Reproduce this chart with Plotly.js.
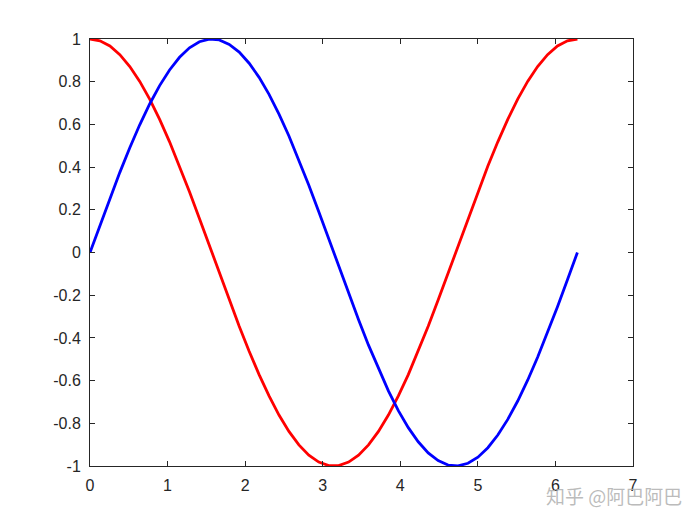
<!DOCTYPE html>
<html>
<head>
<meta charset="utf-8">
<script src="https://cdn.plot.ly/plotly-3.0.1.min.js"></script>
<style>html,body{margin:0;padding:0;background:#fff;}#chart{width:700px;height:525px;}</style>
</head>
<body>
<div id="chart"></div>
<script>
var xValues = [0, 0.1282, 0.2565, 0.3847, 0.5129, 0.6411, 0.7694, 0.8976, 1.0258, 1.1541,
  1.2823, 1.4105, 1.5387, 1.6670, 1.7952, 1.9234, 2.0517, 2.1799, 2.3081, 2.4363,
  2.5646, 2.6928, 2.8210, 2.9493, 3.0775, 3.2057, 3.3339, 3.4622, 3.5904, 3.7186,
  3.8468, 3.9751, 4.1033, 4.2315, 4.3598, 4.4880, 4.6162, 4.7444, 4.8727, 5.0009,
  5.1291, 5.2574, 5.3856, 5.5138, 5.6420, 5.7703, 5.8985, 6.0267, 6.1550, 6.2832];
var blueValues = [0, 0.1279, 0.2537, 0.3753, 0.4907, 0.5981, 0.6956, 0.7818, 0.8551, 0.9144,
  0.9587, 0.9872, 0.9995, 0.9954, 0.9749, 0.9385, 0.8866, 0.8204, 0.7409, 0.6482,
  0.5455, 0.4339, 0.3151, 0.1912, 0.0641, -0.0641, -0.1912, -0.3151, -0.4339, -0.5455,
  -0.6482, -0.7409, -0.8204, -0.8866, -0.9385, -0.9749, -0.9954, -0.9995, -0.9872, -0.9587,
  -0.9144, -0.8551, -0.7818, -0.6956, -0.5981, -0.4907, -0.3753, -0.2537, -0.1279, 0];
var redValues = [1, 0.9918, 0.9673, 0.9269, 0.8713, 0.8014, 0.7184, 0.6235, 0.5184, 0.4048,
  0.2845, 0.1596, 0.0321, -0.0960, -0.2225, -0.3454, -0.4625, -0.5721, -0.6716, -0.7615,
  -0.8381, -0.9010, -0.9491, -0.9816, -0.9979, -0.9979, -0.9816, -0.9491, -0.9010, -0.8381,
  -0.7615, -0.6716, -0.5721, -0.4625, -0.3454, -0.2225, -0.0960, 0.0321, 0.1596, 0.2845,
  0.4048, 0.5184, 0.6235, 0.7184, 0.8014, 0.8713, 0.9269, 0.9673, 0.9918, 1];
var xTickVals = [0, 1, 2, 3, 4, 5, 6, 7];
var xTickText = ['0', '1', '2', '3', '4', '5', '6', '7'];
var yTickVals = [-1, -0.8, -0.6, -0.4, -0.2, 0, 0.2, 0.4, 0.6, 0.8, 1];
var yTickText = ['-1', '-0.8', '-0.6', '-0.4', '-0.2', '0', '0.2', '0.4', '0.6', '0.8', '1'];
var watermark = '知乎 @阿巴阿巴';

var axisColor = '#262626';
var tickFont = {family: 'Arial, "Liberation Sans", sans-serif', size: 16, color: axisColor};
var traces = [
  {x: xValues, y: redValues, mode: 'lines', line: {color: '#ff0000', width: 2.8}, hoverinfo: 'skip'},
  {x: xValues, y: blueValues, mode: 'lines', line: {color: '#0000ff', width: 2.8}, hoverinfo: 'skip'}
];
var layout = {
  width: 700, height: 525,
  margin: {l: 90, r: 67, t: 39, b: 59},
  paper_bgcolor: '#ffffff', plot_bgcolor: '#ffffff',
  showlegend: false,
  font: tickFont,
  xaxis: {
    range: [0, 7], tickmode: 'array', tickvals: xTickVals, ticktext: xTickText,
    showgrid: false, zeroline: false, showline: true, mirror: 'ticks',
    linecolor: axisColor, linewidth: 1, ticks: 'inside', ticklen: 5, tickwidth: 1,
    tickcolor: axisColor, tickfont: tickFont, ticklabelstandoff: 5
  },
  yaxis: {
    range: [-1, 1], tickmode: 'array', tickvals: yTickVals, ticktext: yTickText,
    showgrid: false, zeroline: false, showline: true, mirror: 'ticks',
    linecolor: axisColor, linewidth: 1, ticks: 'inside', ticklen: 5, tickwidth: 1,
    tickcolor: axisColor, tickfont: tickFont, ticklabelstandoff: 5
  },
  annotations: [{
    text: watermark, xref: 'paper', yref: 'paper', x: 1.094, y: -0.068,
    xanchor: 'right', yanchor: 'middle', showarrow: false,
    font: {family: '"Noto Sans CJK SC", sans-serif', size: 19, color: 'rgba(175,175,175,0.85)'}
  }]
};
Plotly.newPlot('chart', traces, layout, {staticPlot: true, displayModeBar: false});
</script>
</body>
</html>
